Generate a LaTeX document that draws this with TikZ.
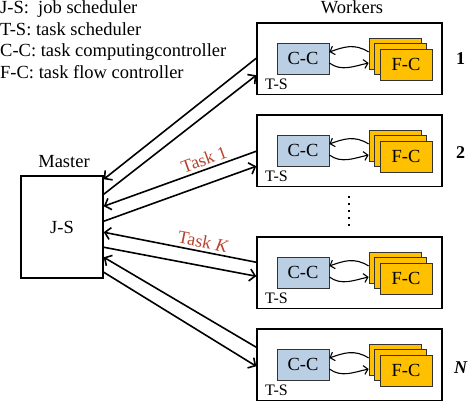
\documentclass[tikz,border=0pt]{standalone}
\usepackage{fontspec}
\setmainfont{Liberation Serif}
\usetikzlibrary{arrows.meta,calc}
\definecolor{ccblue}{HTML}{BACEE4}
\definecolor{fcgold}{HTML}{FFC000}
\definecolor{taskred}{HTML}{B5432E}
\begin{document}
\begin{tikzpicture}[x=1pt,y=-1pt,
  txt/.style={font=\fontsize{18.5}{21}\selectfont, inner sep=0pt},
  legend/.style={txt, anchor=base west},
  worker/.style={draw, line width=1.5pt, minimum width=185pt, minimum height=71.5pt, inner sep=0pt, fill=white},
  master/.style={draw, line width=1.5pt, minimum width=82pt, minimum height=102pt, inner sep=0pt, fill=white, font=\fontsize{18.5}{21}\selectfont},
  ccbox/.style={draw=black!80, line width=0.8pt, fill=ccblue, minimum width=52pt, minimum height=31pt, inner sep=0pt, font=\fontsize{18.5}{21}\selectfont},
  fcbox/.style={draw=black!80, line width=0.8pt, fill=fcgold, minimum width=52pt, minimum height=31pt, inner sep=0pt, font=\fontsize{18.5}{21}\selectfont},
  tslabel/.style={font=\fontsize{16}{19}\selectfont, inner sep=0pt, anchor=base west},
  numlabel/.style={font=\fontsize{18}{21}\selectfont\bfseries, inner sep=0pt, anchor=base},
  conn/.style={line width=1.6pt, -{Straight Barb[length=5.5pt,width=12pt]}},
  innerarrow/.style={line width=1.1pt, -{Straight Barb[length=4pt,width=9pt]}},
  tasklbl/.style={sloped, above, text=taskred, font=\fontsize{18}{21}\selectfont, inner sep=3pt}
]
\useasboundingbox (0,0) rectangle (474,404);

% legend
\node[legend] (l1) at (0,14) {J-S:~ job scheduler};
\node[legend] (l2) at (0,35.5) {T-S: task scheduler};
\node[legend] (l3) at (0,57) {C-C: task computingcontroller};
\node[legend] (l4) at (0,78.5) {F-C: task flow controller};

% headings
\node[txt, anchor=base] (wh) at (352,13.5) {Workers};
\node[txt, anchor=base] (mh) at (64,167) {Master};

% master
\node[master] (m) at (62,227) {J-S};

% workers
\foreach \n/\T in {w1/23,w2/115,wk/237,wn/329} {
  \node[worker] (\n) at (349.5,\T+35.75) {};
  \node[ccbox] (\n cc) at (303,\T+35.5) {C-C};
  \node[fcbox] (\n fb) at (395,\T+30.5) {};
  \node[fcbox] (\n fm) at (400.5,\T+36) {};
  \node[fcbox] (\n ff) at (406,\T+41.5) {F-C};
  \node[tslabel] (\n ts) at (265,\T+66) {T-S};
  \draw[innerarrow] ($(\n fb.west)+(0,-1.5)$) .. controls +(-14,-9) and +(14,-5) .. ($(\n cc.east)+(0,-6.5)$);
  \draw[innerarrow] ($(\n cc.east)+(0,4.5)$) .. controls +(12,9) and +(-14,3) .. ($(\n fb.west)+(0,9.5)$);
}

% worker numbers
\node[numlabel] (n1) at (460.5,65) {1};
\node[numlabel] (n2) at (460.5,158) {2};
\node[numlabel] (nn) at (461,373) {\textit{N}};

% vertical dots
\foreach \yy in {197,204,211,218,225} {
  \fill (347.8,\yy-1.2) rectangle (350.2,\yy+1.2);
}

% connectors master <-> workers
\draw[conn] ($(m.north east)+(0,19)$) -- ($(w1.north west)+(0,53)$);
\draw[conn] ($(w1.north west)+(0,36)$) -- ($(m.north east)+(0,4)$);
\draw[conn] ($(w2.north west)+(0,37)$) -- node[tasklbl, pos=0.32] {Task 1} ($(m.north east)+(0,31)$);
\draw[conn] ($(m.north east)+(0,46)$) -- ($(w2.north west)+(0,52)$);
\draw[conn] ($(wk.north west)+(0,26)$) -- node[tasklbl, pos=0.36] {Task \textit{K}} ($(m.north east)+(0,57)$);
\draw[conn] ($(m.north east)+(0,72)$) -- ($(wk.north west)+(0,40)$);
\draw[conn] ($(wn.north west)+(0,19)$) -- ($(m.north east)+(0,82)$);
\draw[conn] ($(m.north east)+(0,97)$) -- ($(wn.north west)+(0,38)$);
\end{tikzpicture}
\end{document}
